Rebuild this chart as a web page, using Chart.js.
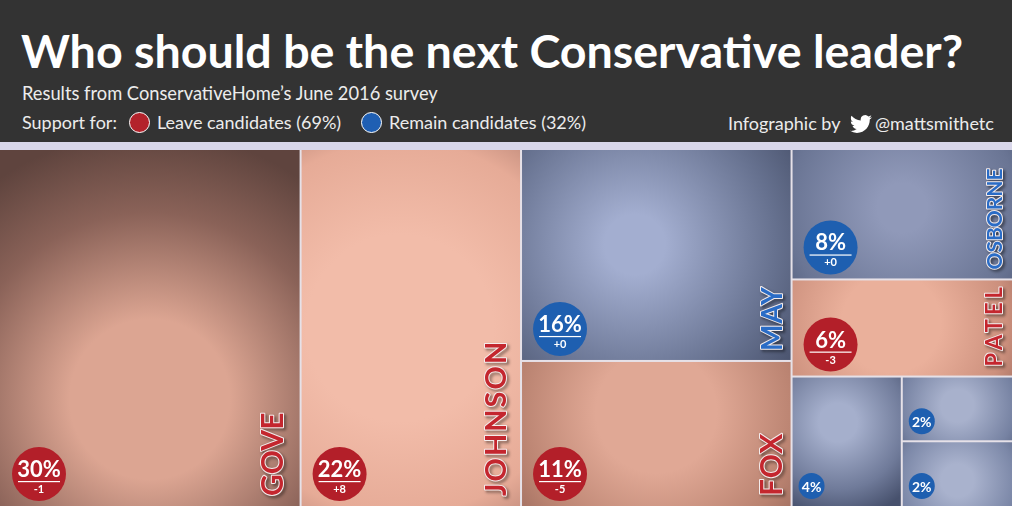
<!DOCTYPE html>
<html>
<head>
<meta charset="utf-8">
<script src="https://cdn.jsdelivr.net/npm/chart.js@4.4.1/dist/chart.umd.min.js"></script>
<style>
  body { margin: 0; width: 1012px; height: 506px; overflow: hidden; background: #333; font-family: Lato, sans-serif; }
  #head { position: absolute; left: 0; top: 0; width: 1012px; height: 142px; background: #333333; color: #fff; }
  #strip { position: absolute; left: 0; top: 142px; width: 1012px; height: 8px; background: #d9d7ea; }
  #wrap { position: absolute; left: 0; top: 150px; width: 1012px; height: 356px; }
  .t { position: absolute; white-space: nowrap; line-height: 1; }
  .dot { position: absolute; width: 21px; height: 21px; border-radius: 50%; border: 1.5px solid #fff; box-sizing: border-box; }
</style>
</head>
<body>
<div id="head">
  <div class="t" style="left:21px;top:27px;font-size:46.6px;font-weight:700;">Who should be the next Conservative leader?</div>
  <div class="t" style="left:22px;top:84px;font-size:18.3px;color:#ececec;">Results from ConservativeHome’s June 2016 survey</div>
  <div class="t" style="left:22px;top:113px;font-size:18px;color:#ececec;">Support for:</div>
  <div class="dot" style="left:129px;top:112px;background:#b3222b;"></div>
  <div class="t" style="left:157px;top:113px;font-size:18px;color:#ececec;">Leave candidates (69%)</div>
  <div class="dot" style="left:361px;top:112px;background:#1f5fb3;"></div>
  <div class="t" style="left:389px;top:113px;font-size:18px;color:#ececec;">Remain candidates (32%)</div>
  <div class="t" style="left:728px;top:114px;font-size:18px;color:#ececec;">Infographic by</div>
  <svg style="position:absolute;left:850px;top:114px;" width="22" height="19" viewBox="0 1.5 24 20">
    <path fill="#fff" d="M23.953 4.57a10 10 0 01-2.825.775 4.958 4.958 0 002.163-2.723c-.951.555-2.005.959-3.127 1.184a4.92 4.92 0 00-8.384 4.482C7.69 8.095 4.067 6.13 1.64 3.162a4.822 4.822 0 00-.666 2.475c0 1.71.87 3.213 2.188 4.096a4.904 4.904 0 01-2.228-.616v.06a4.923 4.923 0 003.946 4.827 4.996 4.996 0 01-2.212.085 4.936 4.936 0 004.604 3.417 9.867 9.867 0 01-6.102 2.105c-.39 0-.779-.023-1.17-.067a13.995 13.995 0 007.557 2.209c9.053 0 13.998-7.496 13.998-13.985 0-.21 0-.42-.015-.63A9.935 9.935 0 0024 4.59z"/>
  </svg>
  <div class="t" style="left:875px;top:114px;font-size:18px;color:#ececec;">@mattsmithetc</div>
</div>
<div id="strip"></div>
<div id="wrap"><canvas id="myChart"></canvas></div>
<script>
// survey results (% of first preferences) and change since last survey
const candidates = ['Gove', 'Johnson', 'May', 'Fox', 'Osborne', 'Patel', 'Javid', 'Morgan', 'Crabb'];
const support = [30, 22, 16, 11, 8, 6, 4, 2, 2];
const change = ['-1', '+8', '+0', '-5', '+0', '-3', '', '', ''];
const camp = ['Leave', 'Leave', 'Remain', 'Leave', 'Remain', 'Leave', 'Remain', 'Remain', 'Remain'];
const nameLabels = ['GOVE', 'JOHNSON', 'MAY', 'FOX', 'OSBORNE', 'PATEL', '', '', ''];

// how the cells are grouped: columns, then rows inside columns, and so on
const grouping = [0, 1, [2, 3], [4, 5, [6, [7, 8]]]];

// tints standing in for the photos: [centre, mid, edge, centre x, centre y, inner stop]
const tints = [
    ['#dca592', '#8a6258', '#5f443e', 0.5, 0.7, 0.3],
    ['#f2bca9', '#e6ab97', '#9e6e62', 0.45, 0.5, 0.35],
    ['#a3aed0', '#66718f', '#47506a', 0.42, 0.45, 0.15],
    ['#e0a895', '#b98270', '#8a5d52', 0.5, 0.35, 0.3],
    ['#9099b9', '#6a7594', '#485270', 0.5, 0.45, 0.15],
    ['#eab09b', '#cc907d', '#8a5a50', 0.45, 0.45, 0.3],
    ['#a5afcc', '#6f7a99', '#47516d', 0.42, 0.35, 0.2],
    ['#a8b1cc', '#7682a2', '#4f5977', 0.5, 0.45, 0.2],
    ['#a9b2cd', '#7c88a8', '#5a6584', 0.5, 0.6, 0.2]
];
const campColor = { Leave: '#b31f29', Remain: '#1e5fb0' };
const labelColor = { Leave: '#c4262e', Remain: '#2a6cc6' };
// [font size, letter spacing, inset from right] for the vertical names
const labelStyle = [[30, 0, 18], [29, 2, 15], [28, 1, 10], [30, 1, 10], [21, 0, 10], [22, 4, 10]];

function total(node) {
    return Array.isArray(node) ? node.reduce((s, n) => s + total(n), 0) : support[node];
}

function layout(node, x0, y0, x1, y1, horiz, out) {
    if (!Array.isArray(node)) {
        out[node] = { x0, y0, x1, y1 };
        return;
    }
    const sum = total(node);
    let pos = horiz ? x0 : y0;
    node.forEach(n => {
        const span = (horiz ? x1 - x0 : y1 - y0) * total(n) / sum;
        if (horiz) layout(n, pos, y0, pos + span, y1, false, out);
        else layout(n, x0, pos, x1, pos + span, true, out);
        pos += span;
    });
}

const cells = [];
layout(grouping, 0, 0, 100, 100, true, cells);

const treemapCells = {
    id: 'treemapCells',
    beforeDatasetsDraw(chart) {
        const { ctx, chartArea, scales: { x, y } } = chart;
        ctx.save();
        ctx.fillStyle = '#e6e1e8';
        ctx.fillRect(chartArea.left, chartArea.top, chartArea.width, chartArea.height);
        cells.forEach((c, i) => {
            let l = x.getPixelForValue(c.x0), r = x.getPixelForValue(c.x1);
            let t = y.getPixelForValue(c.y0), b = y.getPixelForValue(c.y1);
            if (c.x0 > 0) l += 1;
            if (c.x1 < 100) r -= 1;
            if (c.y0 > 0) t += 1;
            if (c.y1 < 100) b -= 1;
            const tint = tints[i];
            const cx = l + (r - l) * tint[3], cy = t + (b - t) * tint[4];
            const g = ctx.createRadialGradient(cx, cy, 0, cx, cy, Math.max(r - l, b - t) * 0.75);
            g.addColorStop(0, tint[0]);
            g.addColorStop(tint[5], tint[0]);
            g.addColorStop(0.7, tint[1]);
            g.addColorStop(1, tint[2]);
            ctx.fillStyle = g;
            ctx.fillRect(l, t, r - l, b - t);
        });
        ctx.restore();
    },
    afterDatasetsDraw(chart) {
        const { ctx, scales: { x, y } } = chart;
        cells.forEach((c, i) => {
            const l = x.getPixelForValue(c.x0), r = x.getPixelForValue(c.x1);
            const b = y.getPixelForValue(c.y1);
            const big = support[i] >= 5;
            const bx = big ? l + 39 : l + 20;
            const by = big ? b - 32 : b - 20;
            ctx.save();
            ctx.fillStyle = campColor[camp[i]];
            ctx.beginPath();
            ctx.arc(bx, by, big ? 27 : 13, 0, Math.PI * 2);
            ctx.fill();
            ctx.fillStyle = '#fff';
            ctx.textAlign = 'center';
            if (big) {
                ctx.font = 'bold 22px Lato';
                ctx.textBaseline = 'alphabetic';
                ctx.fillText(support[i] + '%', bx, by + 3);
                ctx.fillRect(bx - 21, by + 7, 42, 1.2);
                ctx.font = 'bold 11px Lato';
                ctx.fillText(change[i], bx, by + 19);
            } else {
                ctx.font = 'bold 14px Lato';
                ctx.textBaseline = 'middle';
                ctx.fillText(support[i] + '%', bx, by + 1);
            }
            ctx.restore();

            if (nameLabels[i]) {
                const st = labelStyle[i];
                ctx.save();
                ctx.translate(r - st[2], b - 10);
                ctx.rotate(-Math.PI / 2);
                ctx.font = 'bold ' + st[0] + 'px Lato';
                ctx.letterSpacing = st[1] + 'px';
                ctx.textAlign = 'left';
                ctx.textBaseline = 'alphabetic';
                ctx.shadowColor = 'rgba(0,0,0,0.5)';
                ctx.shadowOffsetX = 2;
                ctx.shadowOffsetY = 2;
                ctx.shadowBlur = 3;
                ctx.lineWidth = 2;
                ctx.lineJoin = 'round';
                ctx.strokeStyle = '#f4ecec';
                ctx.strokeText(nameLabels[i], 0, 0);
                ctx.shadowColor = 'transparent';
                ctx.fillStyle = labelColor[camp[i]];
                ctx.fillText(nameLabels[i], 0, 0);
                ctx.restore();
            }
        });
    }
};

const ctx = document.getElementById('myChart');

new Chart(ctx, {
    type: 'scatter',
    data: {
        labels: candidates,
        datasets: [{
            label: 'Support',
            data: cells.map(c => ({ x: (c.x0 + c.x1) / 2, y: (c.y0 + c.y1) / 2 })),
            pointRadius: 0
        }]
    },
    options: {
        responsive: true,
        maintainAspectRatio: false,
        animation: false,
        layout: { padding: 0 },
        scales: {
            x: { type: 'linear', min: 0, max: 100, display: false },
            y: { type: 'linear', min: 0, max: 100, reverse: true, display: false }
        },
        plugins: {
            legend: { display: false },
            tooltip: { enabled: false }
        }
    },
    plugins: [treemapCells]
});
</script>
</body>
</html>
